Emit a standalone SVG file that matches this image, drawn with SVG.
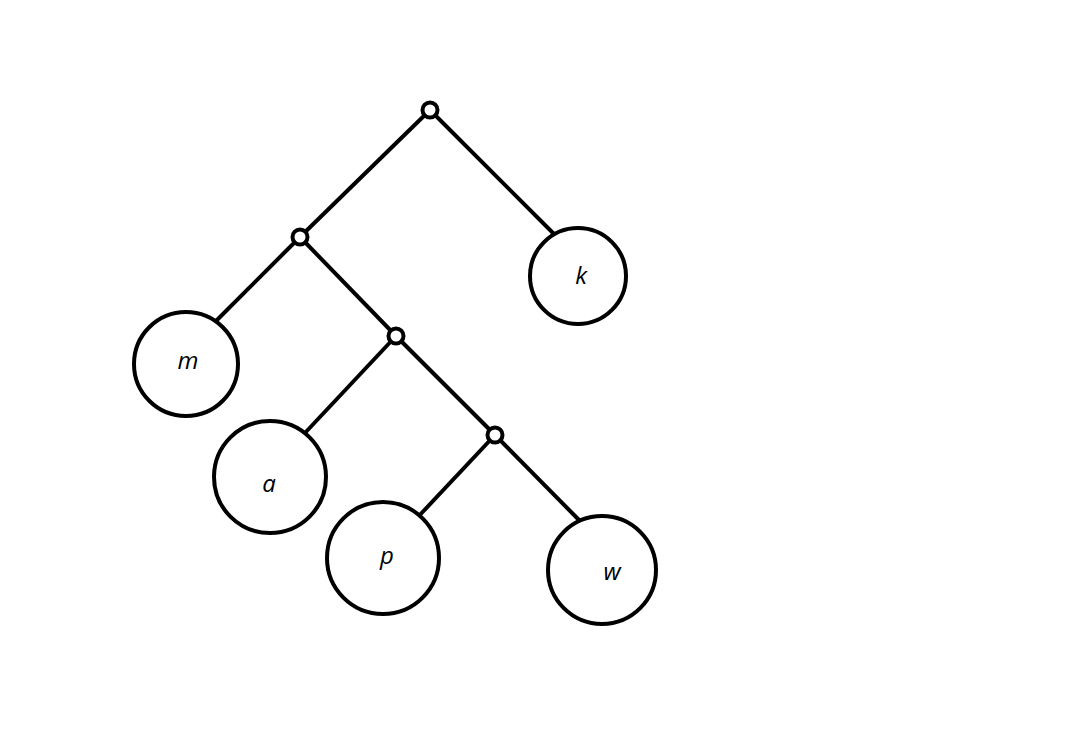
<svg xmlns="http://www.w3.org/2000/svg" width="1068" height="740" viewBox="0 0 1068 740">
<style>
.e{stroke:#000;stroke-width:4;fill:none}
.n{stroke:#000;stroke-width:4;fill:#fff}
.t{font-family:"Open Sans","DejaVu Sans",sans-serif;font-style:italic;font-size:24px;text-anchor:middle;fill:#000}
</style>
<rect width="1068" height="740" fill="#fff"/>
<g id="connectors">
<line class="e" x1="430" y1="110" x2="555" y2="235"/>
<line class="e" x1="430" y1="110" x2="300" y2="237"/>
<line class="e" x1="300" y1="237" x2="213" y2="324"/>
<line class="e" x1="300" y1="237" x2="396" y2="336"/>
<line class="e" x1="396" y1="336" x2="304" y2="434"/>
<line class="e" x1="396" y1="336" x2="495" y2="435"/>
<line class="e" x1="495" y1="435" x2="417" y2="518"/>
<line class="e" x1="495" y1="435" x2="580" y2="521"/>
</g>
<g id="r"><circle class="n" cx="430" cy="110" r="7.5"/></g>
<g id="j1"><circle class="n" cx="300" cy="237" r="7.5"/></g>
<g id="j2"><circle class="n" cx="396" cy="336" r="7.5"/></g>
<g id="j3"><circle class="n" cx="495" cy="435" r="7.5"/></g>
<g id="k"><circle class="n" cx="578" cy="276" r="48"/><text class="t" x="581" y="284">k</text></g>
<g id="m"><circle class="n" cx="186" cy="364" r="52"/><text class="t" x="188" y="369">m</text></g>
<g id="a"><circle class="n" cx="270" cy="477" r="56"/><text class="t" x="269" y="492">a</text></g>
<g id="p"><circle class="n" cx="383" cy="558" r="56"/><text class="t" x="387" y="564">p</text></g>
<g id="w"><circle class="n" cx="602" cy="570" r="54"/><text class="t" x="612" y="580">w</text></g>
</svg>
